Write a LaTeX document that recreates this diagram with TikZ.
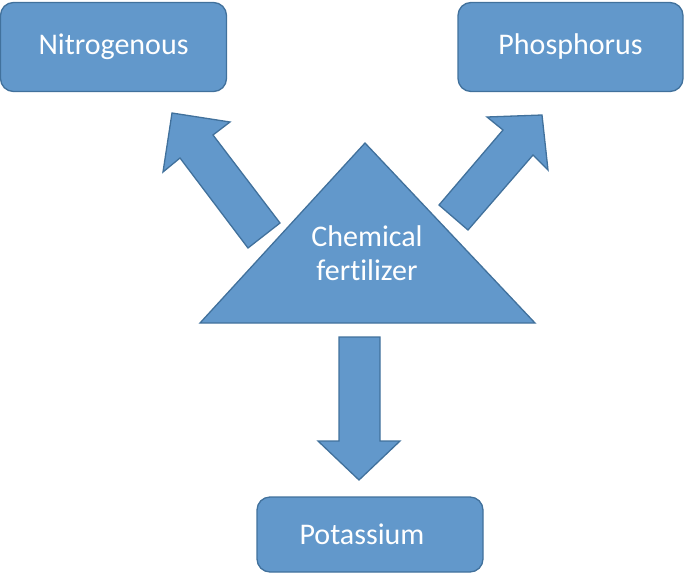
\documentclass[tikz,border=0pt]{standalone}
\usepackage{fontspec}
\setmainfont[Ligatures=NoCommon]{Carlito}
\definecolor{boxfill}{RGB}{98,152,203}
\definecolor{boxline}{RGB}{65,113,156}
\begin{document}
\begin{tikzpicture}[x=1pt,y=-1pt,
  shapestyle/.style={fill=boxfill,draw=boxline,line width=1.3pt,line join=miter},
  box/.style={shapestyle,rounded corners=13pt,text=white,font=\fontsize{30}{34}\selectfont,inner sep=0pt},
  label/.style={text=white,font=\fontsize{30}{34}\selectfont,align=center}]
\useasboundingbox (0,0) rectangle (685,573);
% boxes
\node[box,minimum width=226pt,minimum height=89pt] (nit) at (113.5,47) {Nitrogenous};
\node[box,minimum width=225pt,minimum height=89pt] (pho) at (570.5,47) {Phosphorus};
\node[box,minimum width=226pt,minimum height=75pt] (pot) at (370,534.5) {Potassium\hspace*{16pt}};
% triangle
\draw[shapestyle] (200,323) -- (365,143) -- (535,323) -- cycle;
\node[label] (chem) at (367,253) {Chemical\\fertilizer};
% left arrow
\draw[shapestyle] (280,223) -- (213,135) -- (230,122) -- (172,113) -- (163,172) -- (180,158) -- (248,248) -- cycle;
% right arrow
\draw[shapestyle] (439,205) -- (503,130) -- (487,117) -- (542,115) -- (548,170) -- (533,155) -- (468,230) -- cycle;
% down arrow
\draw[shapestyle] (339,337) -- (380,337) -- (380,441) -- (400,441) -- (359,480) -- (318,441) -- (339,441) -- cycle;
\end{tikzpicture}
\end{document}
